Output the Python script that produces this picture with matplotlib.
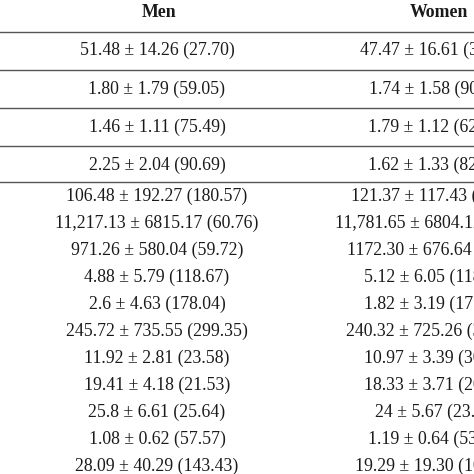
import matplotlib.pyplot as plt

# Table content (right column is cut off at the image edge in the reference)
headers = ["Men", "Women"]
men = ["51.48 \u00b1 14.26 (27.70)", "1.80 \u00b1 1.79 (59.05)", "1.46 \u00b1 1.11 (75.49)",
       "2.25 \u00b1 2.04 (90.69)", "106.48 \u00b1 192.27 (180.57)", "11,217.13 \u00b1 6815.17 (60.76)",
       "971.26 \u00b1 580.04 (59.72)", "4.88 \u00b1 5.79 (118.67)", "2.6 \u00b1 4.63 (178.04)",
       "245.72 \u00b1 735.55 (299.35)", "11.92 \u00b1 2.81 (23.58)", "19.41 \u00b1 4.18 (21.53)",
       "25.8 \u00b1 6.61 (25.64)", "1.08 \u00b1 0.62 (57.57)", "28.09 \u00b1 40.29 (143.43)"]
women = ["47.47 \u00b1 16.61 (35.00)", "1.74 \u00b1 1.58 (90.80)", "1.79 \u00b1 1.12 (62.57)",
         "1.62 \u00b1 1.33 (82.10)", "121.37 \u00b1 117.43 (96.75)", "11,781.65 \u00b1 6804.12 (57.75)",
         "1172.30 \u00b1 676.64 (57.72)", "5.12 \u00b1 6.05 (118.16)", "1.82 \u00b1 3.19 (175.27)",
         "240.32 \u00b1 725.26 (301.79)", "10.97 \u00b1 3.39 (30.90)", "18.33 \u00b1 3.71 (20.24)",
         "24 \u00b1 5.67 (23.63)", "1.19 \u00b1 0.64 (53.78)", "19.29 \u00b1 19.30 (100.05)"]

row_y = [50, 89, 127, 165] + [196 + 27 * i for i in range(11)]
line_y = [32, 70, 108, 146, 182]
col_x = [157, 437]

fig = plt.figure(figsize=(4.74, 4.74), dpi=100)
ax = fig.add_axes([0, 0, 1, 1])
ax.set_xlim(0, 474)
ax.set_ylim(474, 0)
ax.axis("off")

font = dict(family="Liberation Serif", fontsize=12.8, color="#1a1a1a", ha="center", va="center")
for x, h in zip(col_x, headers):
    ax.text(x + 2, 12, h, fontweight="bold", **font)
for y, m, w in zip(row_y, men, women):
    ax.text(col_x[0], y, m, **font)
    ax.text(col_x[1], y, w, **font)
for y in line_y:
    ax.axhline(y, color="#555555", lw=1.0)

fig.savefig("out.png", dpi=100)
